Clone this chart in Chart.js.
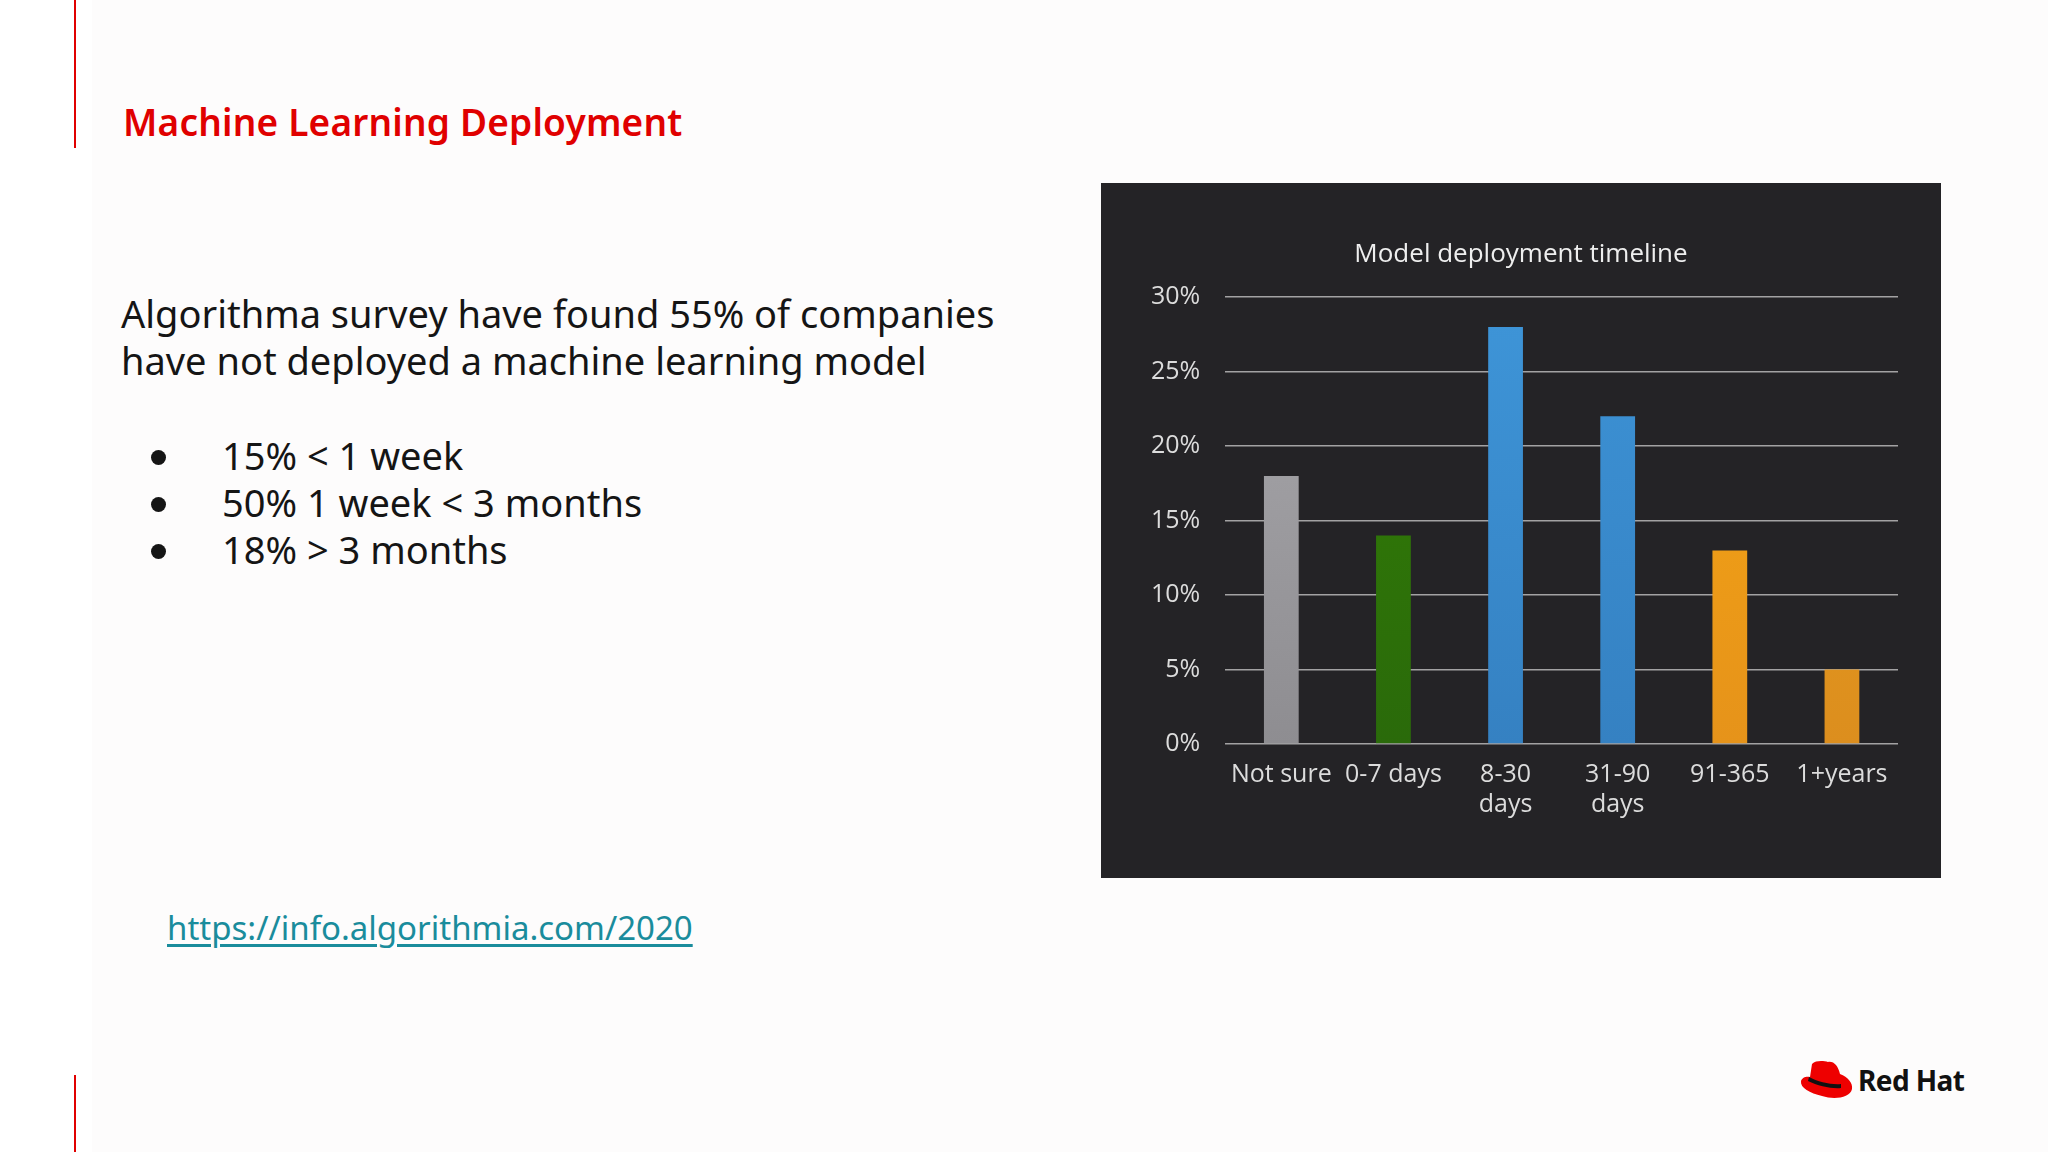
<!DOCTYPE html>
<html>
<head>
<meta charset="utf-8">
<script src="https://cdn.jsdelivr.net/npm/chart.js@4.4.1/dist/chart.umd.min.js"></script>
<style>
  html, body { margin: 0; padding: 0; }
  body { width: 2048px; height: 1152px; background: #fdfcfc; position: relative; overflow: hidden; font-family: "Noto Sans", sans-serif; }
  .strip { position: absolute; left: 0; top: 0; width: 92px; height: 1152px; background: #ffffff; }
  .redline { position: absolute; left: 74px; width: 2px; background: #e00000; }
  h1 { position: absolute; left: 123px; top: 96px; margin: 0; font-size: 37px; font-weight: 600; color: #e00000; letter-spacing: 0.2px; }
  .lead { position: absolute; left: 121px; top: 290px; margin: 0; font-size: 38px; line-height: 47px; color: #151515; }
  ul { position: absolute; left: 0; top: 432px; margin: 0; padding: 0; list-style: none; font-size: 38px; line-height: 47px; color: #151515; }
  ul li { position: relative; padding-left: 222px; }
  ul li::before { content: ""; position: absolute; left: 151px; top: 18px; width: 15px; height: 15px; border-radius: 50%; background: #151515; }
  a { position: absolute; left: 167px; top: 905px; font-size: 33px; color: #1a8c9c; text-decoration: underline; text-underline-offset: 4px; }
  .panel { position: absolute; left: 1101px; top: 183px; width: 840px; height: 695px; background: #242326; }
  .logo { position: absolute; left: 1798px; top: 1058px; display: flex; align-items: center; }
  .logo span { font-size: 28px; font-weight: 700; color: #111; margin-left: 4px; letter-spacing: -0.6px; }
</style>
</head>
<body>
<div class="strip"></div>
<div class="redline" style="top:0;height:148px"></div>
<div class="redline" style="top:1075px;height:77px"></div>
<h1>Machine Learning Deployment</h1>
<p class="lead">Algorithma survey have found 55% of companies<br>have not deployed a machine learning model</p>
<ul>
  <li>15% &lt; 1 week</li>
  <li>50% 1 week &lt; 3 months</li>
  <li>18% &gt; 3 months</li>
</ul>
<a>https://info.algorithmia.com/2020</a>
<div class="panel"><canvas id="myChart" width="840" height="695"></canvas></div>
<div class="logo">
  <svg width="56" height="44" viewBox="0 0 56 44">
    <path d="M14 6 C18 2 26 3 30 4 C36 3 40 8 42 16 C50 19 55 25 54 31 C52 40 36 42 24 38 C12 35 2 30 3 23 C4 19 9 18 12 19 Z" fill="#ee0000"/>
    <path d="M11 19 C20 24 34 27 43 26 L43 30 C34 31 20 28 10 23 Z" fill="#111"/>
  </svg>
  <span>Red Hat</span>
</div>
<script>
var labels = [['Not sure'], ['0-7 days'], ['8-30', 'days'], ['31-90', 'days'], ['91-365'], ['1+years']];
var values = [18, 14, 28, 22, 13, 5];
var topColors = ['#a9a8ac', '#337f06', '#3e95d8', '#3d93d6', '#f6a614', '#eca11c'];
var bottomColors = ['#8e8d91', '#2a6a0a', '#3581c2', '#3581c2', '#e6931a', '#dc8e1e'];
var yTicks = [0, 5, 10, 15, 20, 25, 30];

var ctx = document.getElementById('myChart').getContext('2d');

// vertical gradient per bar, lighter at the top
function barColor(c) {
  var area = c.chart.chartArea;
  if (!area) return topColors[c.dataIndex];
  var g = c.chart.ctx.createLinearGradient(0, area.top, 0, area.bottom);
  g.addColorStop(0, topColors[c.dataIndex]);
  g.addColorStop(1, bottomColors[c.dataIndex]);
  return g;
}

var chart = new Chart(ctx, {
  type: 'bar',
  data: {
    labels: labels,
    datasets: [{
      data: values,
      backgroundColor: barColor,
      borderWidth: 0,
      barPercentage: 0.62,
      categoryPercentage: 0.5
    }]
  },
  options: {
    responsive: false,
    animation: false,
    // equal side padding keeps the title centred on the panel
    layout: { padding: { left: 43, right: 43, top: 56, bottom: 50 } },
    plugins: {
      legend: { display: false },
      tooltip: { enabled: false },
      title: {
        display: true,
        text: 'Model deployment timeline',
        color: '#eeeeee',
        font: { family: 'Open Sans', size: 26, weight: 'normal' },
        padding: { top: 0, bottom: 27 }
      }
    },
    scales: {
      x: {
        grid: { display: false },
        border: { display: false },
        ticks: { color: '#dcdcdc', font: { family: 'Open Sans', size: 25 }, padding: 8, maxRotation: 0 }
      },
      y: {
        min: 0,
        max: 30,
        afterBuildTicks: function(axis) { axis.ticks = yTicks.map(function(v) { return { value: v }; }); },
        afterFit: function(axis) { axis.width -= 18; },
        grid: { color: 'rgba(205,205,205,0.75)', lineWidth: 1.5, drawTicks: false },
        border: { display: false },
        ticks: {
          color: '#dcdcdc',
          font: { family: 'Open Sans', size: 25 },
          padding: 25,
          callback: function(v) { return v + '%'; }
        }
      }
    }
  }
});
</script>
</body>
</html>
